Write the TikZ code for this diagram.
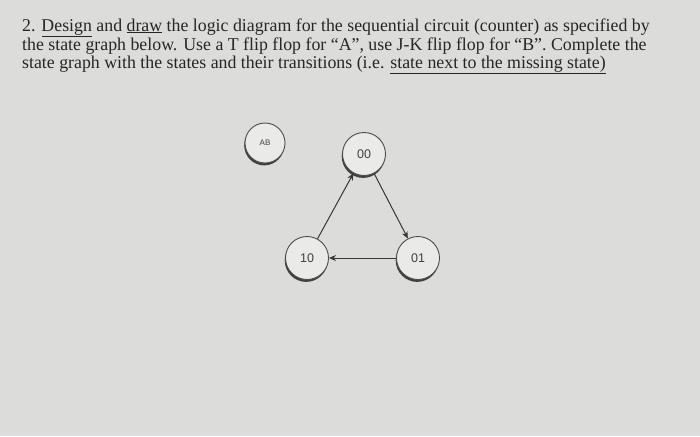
\documentclass[tikz,border=0pt]{standalone}
\usepackage{fontspec}
\setmainfont{Liberation Serif}
\setsansfont{Liberation Sans}
\usetikzlibrary{arrows.meta,shadows}
\definecolor{bg}{RGB}{220,220,218}
\definecolor{circfill}{RGB}{234,234,232}
\definecolor{edge}{RGB}{55,55,55}
\tikzset{
  state/.style={circle, minimum size=43pt, inner sep=0pt, fill=circfill,
    draw=black!70, line width=0.9pt, font=\sffamily\fontsize{12.5}{12.5}\selectfont, text=black!75,
    drop shadow={shadow xshift=-0.8pt, shadow yshift=-2.4pt, fill=black!85, opacity=0.85}},
  trans/.style={draw=edge, line width=1pt, -{Stealth[length=7pt,width=6pt]}},
  qline/.style={anchor=base west, inner sep=0pt, font=\fontsize{18}{18}\selectfont, text=black!85}
}
\begin{document}
\begin{tikzpicture}[x=1pt,y=-1pt]
\fill[bg] (0,0) rectangle (700,436);
\useasboundingbox (0,0) rectangle (700,436);
\node[qline] (l1) at (22,31) {\scalebox{0.99}[1]{2. \underline{Design} and \underline{draw} the logic diagram for the sequential circuit (counter) as specified by}};
\node[qline] (l2) at (22,50) {\scalebox{0.99}[1]{the state graph below. Use a T flip flop for ``A'', use J-K flip flop for ``B''. Complete the}};
\node[qline] (l3) at (22,68) {\scalebox{0.99}[1]{state graph with the states and their transitions (i.e. \underline{state next to the missing state)}}};
\node[state, minimum size=40pt, font=\sffamily\fontsize{8}{8}\selectfont] (ab) at (265,143) {AB};
\node[state] (s00) at (364,154) {00};
\node[state] (s10) at (307,258) {10};
\node[state] (s01) at (418,258) {01};
\draw[trans] (s10) -- (s00);
\draw[trans] (s00) -- (s01);
\draw[trans] (s01) -- (s10);
\end{tikzpicture}
\end{document}
